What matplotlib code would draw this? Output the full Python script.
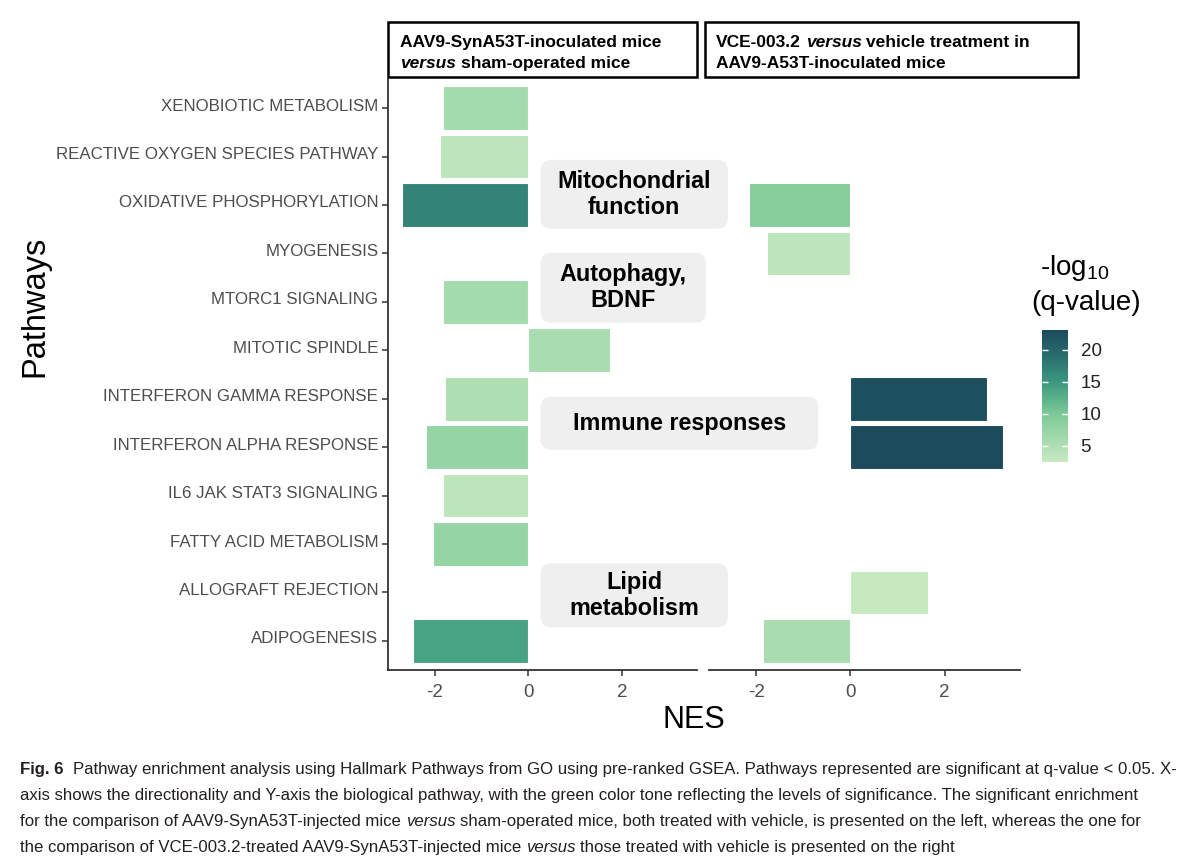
import numpy as np
import matplotlib
matplotlib.use('Agg')
import matplotlib.pyplot as plt
from matplotlib.colors import LinearSegmentedColormap, Normalize
from matplotlib.patches import FancyBboxPatch, Rectangle
from matplotlib.transforms import ScaledTranslation

plt.rcParams['font.family'] = ['Liberation Sans', 'DejaVu Sans']
plt.rcParams['mathtext.fontset'] = 'custom'
plt.rcParams['mathtext.rm'] = 'Liberation Sans'
plt.rcParams['mathtext.it'] = 'Liberation Sans:italic'
plt.rcParams['mathtext.bf'] = 'Liberation Sans:bold'

# ---- data ----
pathways = ['XENOBIOTIC METABOLISM', 'REACTIVE OXYGEN SPECIES PATHWAY',
            'OXIDATIVE PHOSPHORYLATION', 'MYOGENESIS', 'MTORC1 SIGNALING',
            'MITOTIC SPINDLE', 'INTERFERON GAMMA RESPONSE',
            'INTERFERON ALPHA RESPONSE', 'IL6 JAK STAT3 SIGNALING',
            'FATTY ACID METABOLISM', 'ALLOGRAFT REJECTION', 'ADIPOGENESIS']
nan = np.nan
left_nes = np.array([-1.83, -1.89, -2.70, nan, -1.83, 1.74, -1.79, -2.19, -1.82, -2.04, nan, -2.47])
left_q = np.array([6.0, 3.5, 17.0, nan, 6.0, 5.5, 5.0, 7.5, 3.5, 7.5, nan, 14.0])
right_nes = np.array([nan, nan, -2.15, -1.77, nan, nan, 2.91, 3.24, nan, nan, 1.64, -1.85])
right_q = np.array([nan, nan, 9.0, 3.5, nan, nan, 22.5, 23.1, nan, nan, 2.5, 5.5])

groups = ['Mitochondrial\nfunction', 'Autophagy,\nBDNF', 'Immune responses', 'Lipid\nmetabolism']
# box extents in left-panel data units (x0, x1, y0, y1)
group_boxes = [(0.26, 4.26, 1.07, 2.49), (0.26, 3.79, 2.99, 4.43),
               (0.26, 6.19, 5.96, 7.05), (0.26, 4.26, 9.40, 10.72)]

W, H = 1200, 868
fig = plt.figure(figsize=(12, 8.68), dpi=100)


def fx(px):
    return px / W


def fy(py):
    return 1 - py / H


cmap = LinearSegmentedColormap.from_list('gr', [
    (0.0, '#c7e9c0'), (0.35, '#7fcb98'), (0.6, '#3d9a80'),
    (0.8, '#2a6e6e'), (1.0, '#1b4b5c')])
norm = Normalize(vmin=2.5, vmax=23.1)

ax1 = fig.add_axes([fx(388), fy(670), fx(697) - fx(388), fy(79) - fy(670)])
ax2 = fig.add_axes([fx(709), fy(670), fx(1020) - fx(709), fy(79) - fy(670)], sharey=ax1)
ax2.set_facecolor('none')
ax1.set_zorder(2)

y = np.arange(len(pathways))
for ax, nes, q in [(ax1, left_nes, left_q), (ax2, right_nes, right_q)]:
    m = ~np.isnan(nes)
    ax.barh(y[m], nes[m], height=0.9, color=cmap(norm(q[m])),
            edgecolor='white', linewidth=0.8)
    ax.set_xlim(-3.0, 3.6)
    ax.set_xticks([-2, 0, 2])
    ax.set_xticklabels(['-2', '0', '2'])
    for s in ['top', 'right']:
        ax.spines[s].set_visible(False)
    ax.spines['bottom'].set_color('#333333')
    ax.spines['bottom'].set_linewidth(1.3)
    ax.tick_params(axis='x', colors='#333333', labelcolor='#4d4d4d',
                   labelsize=13.5, length=4, width=1.1, pad=6)

ax1.set_ylim(11.6, -0.6)
ax1.set_yticks(y)
ax1.set_yticklabels(pathways)
ax1.spines['left'].set_color('#333333')
ax1.spines['left'].set_linewidth(1.3)
ax1.tick_params(axis='y', colors='#333333', labelcolor='#4d4d4d',
                labelsize=12.2, length=4, width=1.1, pad=3)
lift = ScaledTranslation(0, 3.5 / 100, fig.dpi_scale_trans)
for lab in ax1.get_yticklabels():
    lab.set_transform(lab.get_transform() + lift)
ax2.spines['left'].set_visible(False)
ax2.tick_params(axis='y', left=False, labelleft=False)

# group annotation boxes
for label, (x0, x1, y0, y1) in zip(groups, group_boxes):
    box = FancyBboxPatch((x0, y0), x1 - x0, y1 - y0,
                         boxstyle='round,pad=0,rounding_size=0.22',
                         facecolor='#efefef', edgecolor='none',
                         clip_on=False, zorder=3)
    ax1.add_patch(box)
    ax1.text((x0 + x1) / 2, (y0 + y1) / 2, label, ha='center', va='center',
             fontsize=16.8, fontweight='bold', color='black', zorder=4,
             clip_on=False, linespacing=1.15)


# pieces of text with mixed styles, chained one after the other
def chain(parts, x, y, size, color='black', gap=0.28, family=None):
    prev = None
    for i, (txt, w, st, sp) in enumerate(parts):
        kw = dict(fontsize=size, fontweight=w, fontstyle=st, color=color,
                  annotation_clip=False)
        if family:
            kw['family'] = family
        if i == 0:
            prev = ax1.annotate(txt, xy=(x, y), xycoords='figure fraction',
                                ha='left', va='baseline', **kw)
        else:
            off = gap * size * sp
            prev = ax1.annotate(txt, xy=(1, 0), xycoords=prev,
                                xytext=(off, 0), textcoords='offset points',
                                ha='left', va='bottom', **kw)


# facet strips
for x0, x1 in [(388, 697), (705, 1078)]:
    fig.add_artist(Rectangle((fx(x0), fy(77)), fx(x1) - fx(x0), fy(22) - fy(77),
                             transform=fig.transFigure, facecolor='none',
                             edgecolor='black', linewidth=1.8))
B = 'bold'
N = 'normal'
chain([('AAV9-SynA53T-inoculated mice', B, N, 0)], fx(400), fy(47), 12.5)
chain([('versus', B, 'italic', 0), ('sham-operated mice', B, N, 1)],
      fx(400), fy(68), 12.5)
chain([('VCE-003.2', B, N, 0), ('versus', B, 'italic', 1),
       ('vehicle treatment in', B, N, 1)], fx(716), fy(47), 12.5)
chain([('AAV9-A53T-inoculated mice', B, N, 0)], fx(716), fy(68), 12.5)

# axis titles
fig.text(fx(35), fy(306), 'Pathways', rotation=90, ha='center', va='center', fontsize=23.5)
fig.text(fx(694), fy(720), 'NES', ha='center', va='center', fontsize=22)

# colourbar
cax = fig.add_axes([fx(1042), fy(462), fx(1068) - fx(1042), fy(330) - fy(462)])
sm = plt.cm.ScalarMappable(norm=norm, cmap=cmap)
cb = fig.colorbar(sm, cax=cax, ticks=[5, 10, 15, 20])
cb.outline.set_visible(False)
cax.yaxis.set_ticks_position('both')
cax.tick_params(direction='in', color='white', length=4, width=1,
                labelsize=13.5, labelcolor='#222222', pad=9)
cax.yaxis.set_tick_params(labelleft=False, labelright=True)
fig.text(fx(1075), fy(268), r'-log$_{10}$', ha='center', va='center', fontsize=20)
fig.text(fx(1086), fy(303), '(q-value)', ha='center', va='center', fontsize=20)

# caption
cap_size = 12.1
chain([('Fig. 6', B, N, 0),
       ('Pathway enrichment analysis using Hallmark Pathways from GO using pre-ranked GSEA. '
        'Pathways represented are significant at q-value < 0.05. X-', N, N, 2)],
      fx(20), fy(774), cap_size, color='#231f20')
chain([('axis shows the directionality and Y-axis the biological pathway, with the green '
        'color tone reflecting the levels of significance. The significant enrichment', N, N, 0)],
      fx(20), fy(800), cap_size, color='#231f20')
chain([('for the comparison of AAV9-SynA53T-injected mice', N, N, 0),
       ('versus', N, 'italic', 1),
       ('sham-operated mice, both treated with vehicle, is presented on the left, whereas the one for', N, N, 1)],
      fx(20), fy(826), cap_size, color='#231f20')
chain([('the comparison of VCE-003.2-treated AAV9-SynA53T-injected mice', N, N, 0),
       ('versus', N, 'italic', 1),
       ('those treated with vehicle is presented on the right', N, N, 1)],
      fx(20), fy(852), cap_size, color='#231f20')

fig.savefig('out.png', dpi=100)
